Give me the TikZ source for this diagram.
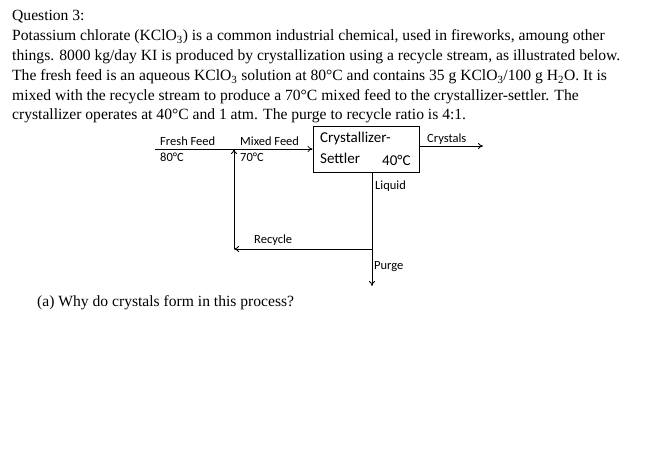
\documentclass[tikz,border=0pt]{standalone}
\usepackage{fontspec}
\usetikzlibrary{arrows.meta}
\setmainfont{Liberation Serif}
\newfontfamily\calfont{Carlito}
\begin{document}
\begin{tikzpicture}[x=1bp,y=-1bp,
  qtext/.style={anchor=base west,inner sep=0,font=\fontsize{15.6bp}{19bp}\selectfont},
  lab/.style={anchor=base west,inner sep=0,font=\calfont\fontsize{12.5bp}{14bp}\selectfont},
  flow/.style={line width=0.8pt,-{To[length=5pt,width=6pt]}},
  pipe/.style={line width=0.8pt}]
\useasboundingbox (0,0) rectangle (669,473);
\node[qtext] (q0) at (12,21) {Question 3:};
\node[qtext] (q1) at (12,41) {Potassium chlorate (KClO\textsubscript{3}) is a common industrial chemical, used in fireworks, amoung other};
\node[qtext] (q2) at (12,61) {things. 8000 kg/day KI is produced by crystallization using a recycle stream, as illustrated below.};
\node[qtext] (q3) at (12,81) {The fresh feed is an aqueous KClO\textsubscript{3} solution at 80°C and contains 35 g KClO\textsubscript{3}/100 g H\textsubscript{2}O. It is};
\node[qtext] (q4) at (12,101) {mixed with the recycle stream to produce a 70°C mixed feed to the crystallizer-settler. The};
\node[qtext] (q5) at (12,120) {crystallizer operates at 40°C and 1 atm. The purge to recycle ratio is 4:1.};
\node[qtext] (qa) at (37,307) {(a) Why do crystals form in this process?};
% diagram
\node[draw,line width=0.8pt,minimum width=106bp,minimum height=46bp,inner sep=0] (cs) at (366,149) {};
\node[anchor=base west,inner sep=0,font=\calfont\fontsize{15bp}{17bp}\selectfont] (t1) at (320,143) {Crystallizer-};
\node[anchor=base west,inner sep=0,font=\calfont\fontsize{15bp}{17bp}\selectfont] (t2) at (320,164) {Settler};
\node[anchor=base west,inner sep=0,font=\calfont\fontsize{15bp}{17bp}\selectfont] (t3) at (382,166) {40°C};
\coordinate (fs) at (155,149);
\coordinate (mx) at (234,149);
\coordinate (lq) at (372,172);
\coordinate (sp) at (372,249);
\coordinate (rc) at (234,249);
\coordinate (pg) at (372,286);
\coordinate (cr) at (483,146);
\draw[pipe] (fs) -- (mx);
\draw[flow] (mx) -- (cs.west);
\draw[flow] (419,146) -- (cr);
\draw[pipe] (lq) -- (sp);
\draw[flow] (sp) -- (rc);
\draw[flow] (rc) -- (mx);
\draw[flow] (sp) -- (pg);
\node[lab] (l1) at (160,146) {Fresh Feed};
\node[lab] (l2) at (160,162) {80°C};
\node[lab] (l3) at (240,146) {Mixed Feed};
\node[lab] (l4) at (240,162) {70°C};
\node[lab] (l5) at (427,143) {Crystals};
\node[lab] (l6) at (375,190) {Liquid};
\node[lab] (l7) at (254,244) {Recycle};
\node[lab] (l8) at (374,270) {Purge};
\end{tikzpicture}
\end{document}
